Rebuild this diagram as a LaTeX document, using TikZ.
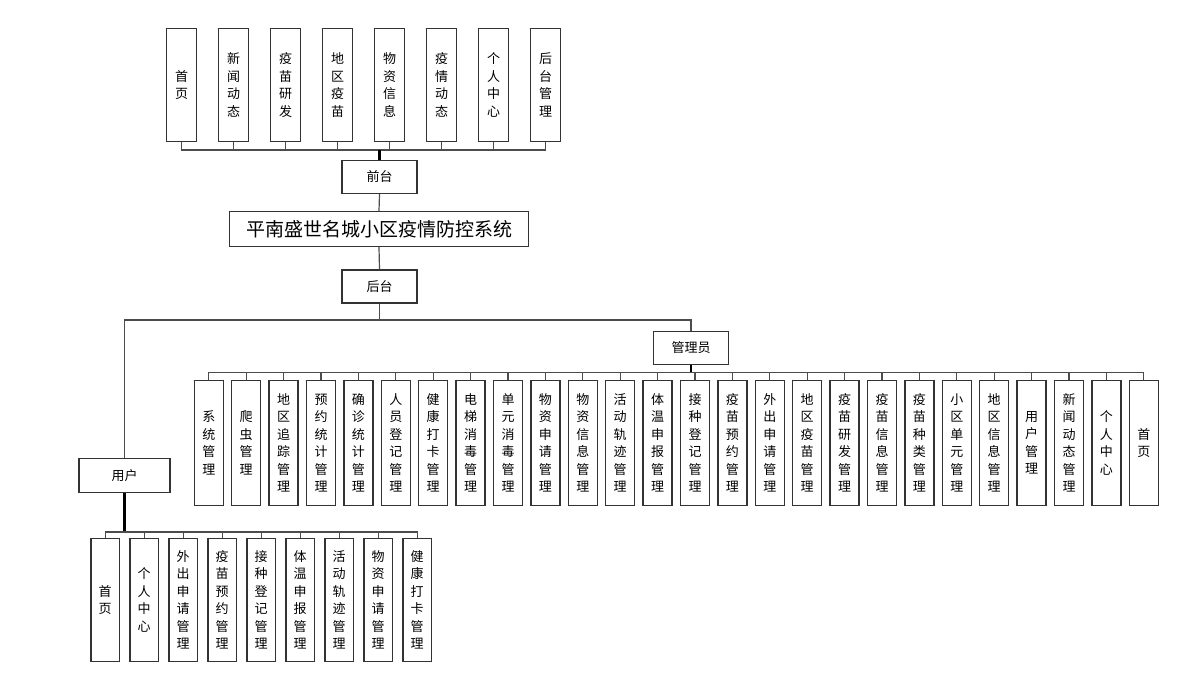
\documentclass[tikz,border=0pt]{standalone}
\usepackage{fontspec}
\setmainfont{Noto Sans CJK SC}
\begin{document}
\begin{tikzpicture}[x=1pt,y=-1pt,
  box/.style={draw=black!80,line width=1.3pt,fill=white,inner sep=0pt,align=center,font=\fontsize{13}{17.5}\selectfont},
  topbox/.style={box,minimum width=30pt,minimum height=113.5pt},
  admbox/.style={box,minimum width=29pt,minimum height=124.5pt},
  usrbox/.style={box,minimum width=28.5pt,minimum height=123.5pt},
  hbox/.style={box,minimum width=75pt,minimum height=33pt},
  thin/.style={draw=black!70,line width=1.2pt},
  trunk/.style={draw=black,line width=2.2pt}]
\useasboundingbox (0,0) rectangle (1182,687);
\fill[white] (0,0) rectangle (1182,687);

% top row
\foreach \t [count=\i from 0] in {首\\页,新\\闻\\动\\态,疫\\苗\\研\\发,地\\区\\疫\\苗,物\\资\\信\\息,疫\\情\\动\\态,个\\人\\中\\心,后\\台\\管\\理}
  \node[topbox] (t\i) at ({181.5+52*\i},85) {\t};

\node[hbox] (front) at (379.5,177) {前台};
\node[box,minimum width=299pt,minimum height=35pt,font=\fontsize{19}{22}\selectfont] (title) at (379,229) {平南盛世名城小区疫情防控系统};
\node[hbox] (back) at (379.5,286.5) {后台};
\node[box,minimum width=75.5pt,minimum height=33pt] (admin) at (691,347.7) {管理员};
\node[box,minimum width=91pt,minimum height=34.5pt] (user) at (124.5,475.5) {用户};

\coordinate (busT) at (379.5,150);
\coordinate (busB) at (379.5,320);
\coordinate (busA) at (691,372.5);
\coordinate (busU) at (124.5,532);

\foreach \i in {0,...,7} \draw[thin] (t\i.south) |- (busT);
\draw[trunk] (front.north) -- (busT);
\draw[thin] (front.south) -- (title.north);
\draw[thin] (title.south) -- (back.north);
\draw[thin] (back.south) -- (busB);
\draw[thin] (busB) -| (user.north);
\draw[thin] (busB) -| (admin.north);
\draw[trunk] (admin.south) -- (busA);
\draw[trunk] (user.south) -- (busU);

% admin row
\foreach \t [count=\i from 0] in {系\\统\\管\\理,爬\\虫\\管\\理,地\\区\\追\\踪\\管\\理,预\\约\\统\\计\\管\\理,确\\诊\\统\\计\\管\\理,人\\员\\登\\记\\管\\理,健\\康\\打\\卡\\管\\理,电\\梯\\消\\毒\\管\\理,单\\元\\消\\毒\\管\\理,物\\资\\申\\请\\管\\理,物\\资\\信\\息\\管\\理,活\\动\\轨\\迹\\管\\理,体\\温\\申\\报\\管\\理,接\\种\\登\\记\\管\\理,疫\\苗\\预\\约\\管\\理,外\\出\\申\\请\\管\\理,地\\区\\疫\\苗\\管\\理,疫\\苗\\研\\发\\管\\理,疫\\苗\\信\\息\\管\\理,疫\\苗\\种\\类\\管\\理,小\\区\\单\\元\\管\\理,地\\区\\信\\息\\管\\理,用\\户\\管\\理,新\\闻\\动\\态\\管\\理,个\\人\\中\\心,首\\页}
  {\node[admbox] (a\i) at ({208.8+37.4*\i},443) {\t};
   \draw[thin] (a\i.north) |- (busA);}

% user row
\foreach \t [count=\i from 0] in {首\\页,个\\人\\中\\心,外\\出\\申\\请\\管\\理,疫\\苗\\预\\约\\管\\理,接\\种\\登\\记\\管\\理,体\\温\\申\\报\\管\\理,活\\动\\轨\\迹\\管\\理,物\\资\\申\\请\\管\\理,健\\康\\打\\卡\\管\\理}
  {\node[usrbox] (u\i) at ({105.2+39*\i},600) {\t};
   \draw[thin] (u\i.north) |- (busU);}
\end{tikzpicture}
\end{document}
